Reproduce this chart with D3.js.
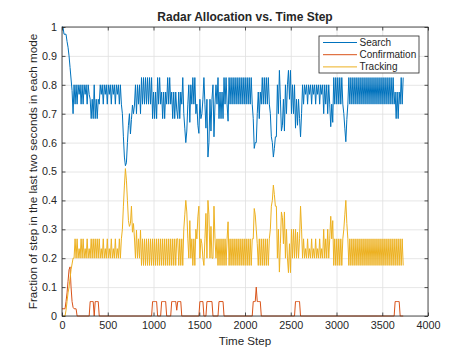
<!DOCTYPE html>
<html><head><meta charset="utf-8">
<script src="https://cdn.jsdelivr.net/npm/d3@7"></script>
<style>
body{margin:0;background:#fff;}
svg{display:block;}
text{font-family:"Liberation Sans",Arial,Helvetica,sans-serif;fill:#262626;}
</style>
</head><body>
<svg id="chart" width="474" height="355"></svg>
<script>
// Samples are taken every STEP time steps (sample i is time step i*STEP)
const STEP = 11;

const search = [
1,1,.975,.975,.975,.95,.93,.9,.86,.82,
.78,.70,.8,.733,.8,.733,.8,.767,.8,.733,
.8,.733,.8,.767,.8,.733,.8,.767,.75,.683,
.75,.683,.8,.683,.75,.683,.75,.733,.8,.767,
.8,.733,.8,.767,.8,.733,.8,.767,.8,.733,
.8,.767,.8,.733,.8,.767,.8,.733,.8,.733,
.70,.62,.55,.52,.53,.6,.66,.70,.63,.68,
.73,.70,.73,.8,.7,.8,.733,.8,.7,.825,
.733,.825,.733,.825,.733,.825,.733,.825,.733,.825,
.683,.775,.683,.775,.683,.825,.733,.825,.733,.775,
.683,.775,.683,.775,.733,.825,.733,.825,.733,.775,
.683,.775,.683,.775,.713,.683,.775,.683,.775,.733,
.825,.7,.65,.6,.64,.733,.8,.67,.8,.733,
.825,.733,.825,.7,.733,.66,.632,.75,.683,.7,
.75,.825,.733,.65,.75,.55,.6,.75,.64,.75,
.8,.62,.733,.8,.733,.825,.683,.775,.683,.775,
.683,.825,.733,.825,.733,.674,.825,.733,.825,.733,
.825,.733,.825,.733,.825,.733,.825,.733,.825,.733,
.825,.733,.825,.733,.825,.733,.825,.733,.825,.733,
.683,.58,.6,.6,.7,.775,.683,.775,.733,.825,
.733,.825,.733,.825,.733,.825,.733,.7,.62,.6,
.55,.58,.62,.62,.8,.7,.85,.75,.64,.66,
.75,.64,.8,.7,.8,.85,.75,.85,.7,.8,
.7,.8,.65,.75,.66,.75,.683,.62,.7,.8,
.733,.8,.767,.8,.733,.8,.767,.8,.733,.8,
.767,.8,.733,.8,.767,.8,.733,.8,.767,.8,
.7,.8,.733,.8,.7,.8,.733,.655,.733,.67,
.825,.733,.825,.733,.825,.733,.825,.733,.825,.733,
.7,.65,.603,.68,.733,.825,.733,.825,.733,.825,
.733,.825,.733,.825,.733,.825,.733,.825,.733,.825,
.733,.825,.733,.825,.733,.825,.733,.825,.733,.825,
.733,.825,.733,.825,.733,.825,.733,.825,.733,.825,
.733,.825,.733,.825,.733,.825,.733,.825,.733,.825,
.733,.775,.683,.775,.683,.775,.733,.825,.733,.825
];

const tracking = [
0,0,0,0,.02,.05,.08,.1,.13,.16,
.18,.2,.2,.267,.2,.267,.2,.233,.2,.267,
.2,.267,.2,.233,.2,.267,.2,.233,.2,.267,
.2,.267,.2,.267,.2,.267,.2,.267,.2,.233,
.2,.267,.2,.233,.2,.267,.2,.233,.2,.267,
.2,.233,.2,.267,.2,.233,.2,.267,.2,.267,
.3,.38,.45,.51,.47,.40,.33,.31,.32,.38,
.29,.32,.27,.2,.297,.2,.267,.2,.297,.175,
.267,.175,.267,.175,.267,.175,.267,.175,.267,.175,
.267,.175,.267,.175,.267,.175,.267,.175,.267,.175,
.267,.175,.267,.175,.267,.175,.267,.175,.267,.175,
.267,.175,.267,.175,.267,.267,.175,.267,.175,.267,
.175,.3,.35,.40,.36,.267,.2,.33,.2,.267,
.175,.267,.175,.3,.267,.343,.38,.2,.267,.25,
.2,.175,.267,.355,.2,.40,.35,.2,.31,.2,
.2,.38,.267,.2,.267,.175,.267,.175,.267,.175,
.267,.175,.267,.175,.267,.326,.175,.267,.175,.267,
.175,.267,.175,.267,.175,.267,.175,.267,.175,.267,
.175,.267,.175,.267,.175,.267,.175,.267,.175,.267,
.267,.372,.35,.3,.25,.175,.267,.175,.267,.175,
.267,.175,.267,.175,.267,.175,.267,.3,.38,.40,
.453,.42,.38,.38,.2,.3,.152,.25,.36,.34,
.25,.36,.2,.3,.2,.15,.25,.15,.3,.2,
.3,.2,.3,.2,.29,.2,.267,.38,.3,.2,
.267,.2,.233,.2,.267,.2,.233,.2,.267,.2,
.233,.2,.267,.2,.233,.2,.267,.2,.233,.2,
.3,.2,.267,.2,.3,.2,.267,.345,.267,.33,
.175,.267,.175,.267,.175,.267,.175,.267,.175,.267,
.3,.35,.40,.32,.267,.175,.267,.175,.267,.175,
.267,.175,.267,.175,.267,.175,.267,.175,.267,.175,
.267,.175,.267,.175,.267,.175,.267,.175,.267,.175,
.267,.175,.267,.175,.267,.175,.267,.175,.267,.175,
.267,.175,.267,.175,.267,.175,.267,.175,.267,.175,
.267,.175,.267,.175,.267,.175,.267,.175,.267,.175
];

const confirmation = [
.025,.025,.025,.025,.05,.08,.12,.16,.17,.1,
.05,.03,.025,.025,.025,0,0,0,0,0,
0,0,0,0,0,0,0,0,.05,.05,
.05,.05,0,.05,.05,.05,.05,0,0,0,
0,0,0,0,0,0,0,0,0,0,
0,0,0,0,0,0,0,0,0,0,
0,0,0,0,0,0,0,0,0,0,
0,0,0,0,0,0,0,0,0,0,
0,0,0,0,0,0,0,0,0,0,
.05,.05,.05,.05,.05,0,0,0,0,.05,
.05,.05,.05,.05,0,0,0,0,0,.05,
.05,.05,.05,.05,.02,.05,.05,.05,.05,0,
0,0,0,0,0,0,0,0,0,0,
0,0,0,0,0,0,0,.05,.05,.05,
.05,0,0,0,.05,.05,.05,.05,.05,.05,
0,0,0,0,0,0,.05,.05,.05,.05,
.05,0,0,0,0,0,0,0,0,0,
0,0,0,0,0,0,0,0,0,0,
0,0,0,0,0,0,0,0,0,0,
.05,.05,.05,.1,.05,.05,.05,.05,0,0,
0,0,0,0,0,0,0,0,0,0,
0,0,0,0,0,0,0,0,0,0,
0,0,0,0,0,0,0,0,0,0,
0,0,.05,.05,.05,.05,.05,0,0,0,
0,0,0,0,0,0,0,0,0,0,
0,0,0,0,0,0,0,0,0,0,
0,0,0,0,0,0,0,0,0,0,
0,0,0,0,0,0,0,0,0,0,
0,0,0,0,0,0,0,0,0,0,
0,0,0,0,0,0,0,0,0,0,
0,0,0,0,0,0,0,0,0,0,
0,0,0,0,0,0,0,0,0,0,
0,0,0,0,0,0,0,0,0,0,
0,.05,.05,.05,.05,.05,0,0,0,0
];

const seriesNames = ["Search", "Confirmation", "Tracking"];
const seriesColors = ["#0072BD", "#D95319", "#EDB120"];
const xTicks = [0, 500, 1000, 1500, 2000, 2500, 3000, 3500, 4000];
const yTicks = [0, 0.1, 0.2, 0.3, 0.4, 0.5, 0.6, 0.7, 0.8, 0.9, 1];

const titleText = "Radar Allocation vs. Time Step";
const xLabelText = "Time Step";
const yLabelText = "Fraction of step in the last two seconds in each mode";

const L = 62, R = 428, T = 27, B = 316;
const svg = d3.select("#chart");
const x = d3.scaleLinear().domain([0, 4000]).range([L, R]);
const y = d3.scaleLinear().domain([0, 1]).range([B, T]);

svg.append("rect").attr("width", 474).attr("height", 355).attr("fill", "#fff");
svg.append("rect").attr("x", L).attr("y", T).attr("width", R - L).attr("height", B - T).attr("fill", "#fff");

// grid
const gx = svg.append("g").attr("transform", `translate(0,${B})`)
  .call(d3.axisBottom(x).tickValues(xTicks).tickSize(-(B - T)).tickFormat(""));
gx.select(".domain").remove();
gx.selectAll("line").attr("stroke", "#dfdfdf").attr("stroke-width", 0.8);
const gy = svg.append("g").attr("transform", `translate(${L},0)`)
  .call(d3.axisLeft(y).tickValues(yTicks).tickSize(-(R - L)).tickFormat(""));
gy.select(".domain").remove();
gy.selectAll("line").attr("stroke", "#dfdfdf").attr("stroke-width", 0.8);

// data lines
svg.append("clipPath").attr("id", "clip").append("rect")
  .attr("x", L).attr("y", T - 1).attr("width", R - L).attr("height", B - T + 2);
const line = d3.line().x((d, i) => x(i * STEP)).y(d => y(d));
const allSeries = [search, confirmation, tracking];
const gl = svg.append("g").attr("clip-path", "url(#clip)");
allSeries.forEach((s, k) => {
  gl.append("path").datum(s).attr("d", line)
    .attr("fill", "none").attr("stroke", seriesColors[k])
    .attr("stroke-width", 1).attr("stroke-linejoin", "round");
});

// axes
const fmtY = d3.format("~g");
function styleAxis(g) {
  g.select(".domain").remove();
  g.selectAll("line").attr("stroke", "#262626").attr("stroke-width", 0.8);
  g.selectAll("text").style("font-size", "10.8px").attr("fill", "#262626");
}
svg.append("g").attr("transform", `translate(0,${B})`)
  .call(d3.axisBottom(x).tickValues(xTicks).tickSize(-3.5).tickPadding(5.5).tickFormat(d3.format("d")))
  .call(styleAxis);
svg.append("g").attr("transform", `translate(0,${T})`)
  .call(d3.axisTop(x).tickValues(xTicks).tickSize(-3.5).tickFormat(""))
  .call(styleAxis);
svg.append("g").attr("transform", `translate(${L},0)`)
  .call(d3.axisLeft(y).tickValues(yTicks).tickSize(-3.5).tickPadding(5).tickFormat(fmtY))
  .call(styleAxis);
svg.append("g").attr("transform", `translate(${R},0)`)
  .call(d3.axisRight(y).tickValues(yTicks).tickSize(-3.5).tickFormat(""))
  .call(styleAxis);
svg.append("rect").attr("x", L).attr("y", T).attr("width", R - L).attr("height", B - T)
  .attr("fill", "none").attr("stroke", "#262626").attr("stroke-width", 0.8);

// title and labels
svg.append("text").attr("x", (L + R) / 2).attr("y", 21).attr("text-anchor", "middle")
  .style("font-size", "12px").style("font-weight", "bold").attr("fill", "#000").text(titleText);
svg.append("text").attr("x", (L + R) / 2).attr("y", 344.5).attr("text-anchor", "middle")
  .style("font-size", "11.6px").text(xLabelText);
svg.append("text").attr("transform", `translate(36.7,${(T + B) / 2}) rotate(-90)`)
  .attr("text-anchor", "middle").style("font-size", "11.7px").text(yLabelText);

// legend
const lg = svg.append("g");
lg.append("rect").attr("x", 319).attr("y", 36).attr("width", 100).attr("height", 37)
  .attr("fill", "#fff").attr("stroke", "#262626").attr("stroke-width", 0.8);
seriesNames.forEach((name, k) => {
  const yy = 42.5 + k * 12.2;
  lg.append("line").attr("x1", 323).attr("x2", 357).attr("y1", yy).attr("y2", yy)
    .attr("stroke", seriesColors[k]).attr("stroke-width", 1);
  lg.append("text").attr("x", 359.5).attr("y", yy).attr("dy", "0.35em")
    .style("font-size", "10px").text(name);
});
</script>
</body></html>
